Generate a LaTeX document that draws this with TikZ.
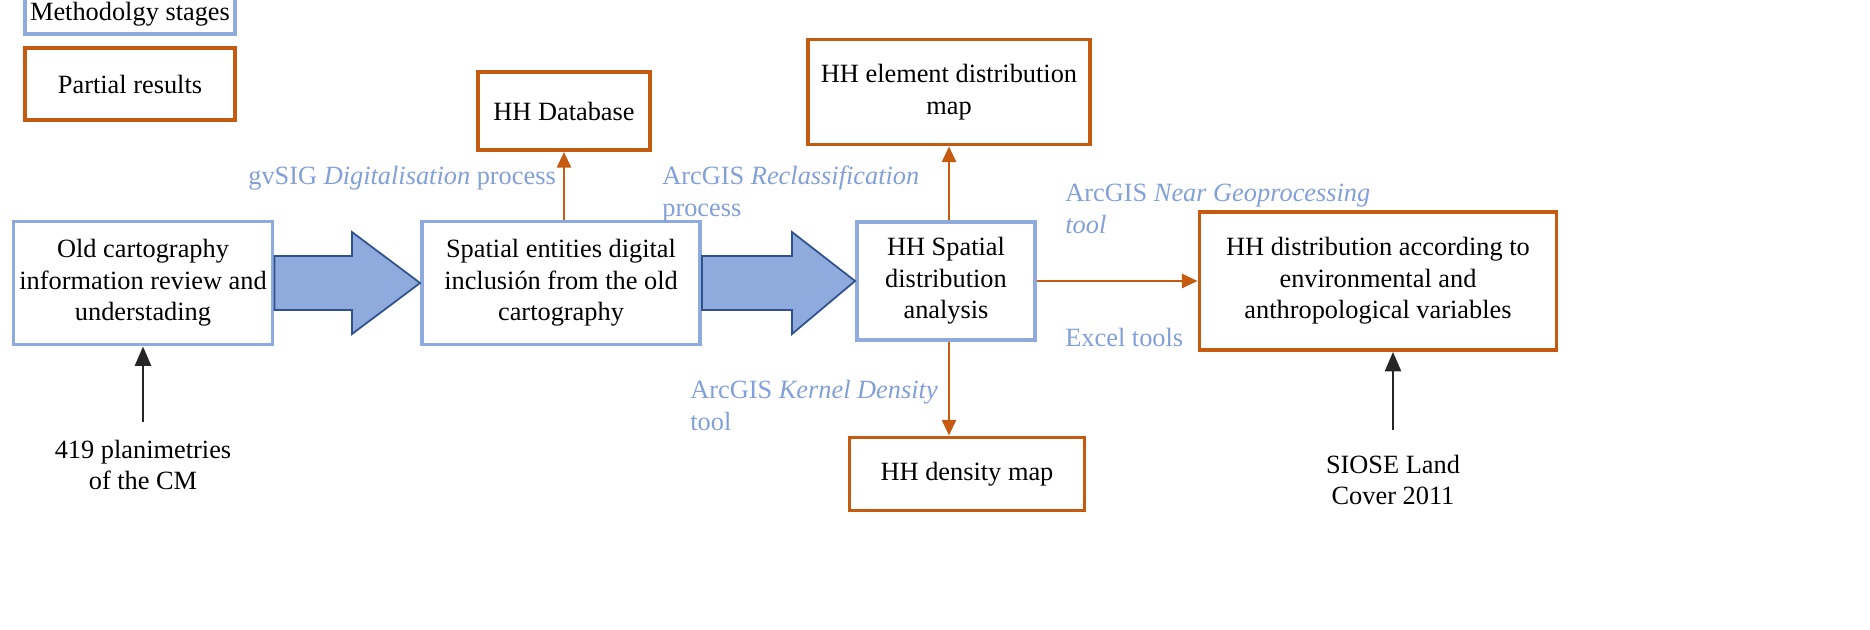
\documentclass[tikz,border=0pt]{standalone}
\usepackage{fontspec}
\setmainfont{Liberation Serif}
\usetikzlibrary{positioning,arrows.meta}
\definecolor{stageblue}{RGB}{143,170,220}
\definecolor{arrowblue}{RGB}{47,82,143}
\definecolor{resorange}{RGB}{197,90,17}
\definecolor{tooltext}{RGB}{130,160,215}
\begin{document}
\begin{tikzpicture}[x=0.02cm,y=-0.02cm,
stage/.style={
	% blue methodology box
	rectangle,draw=stageblue,line width=2.2pt,fill=white,
	align=center,font=\fontsize{15}{18}\selectfont},
result/.style={
	% orange partial result box
	rectangle,draw=resorange,line width=2.2pt,fill=white,
	align=center,font=\fontsize{15}{18}\selectfont},
tool/.style={text=tooltext,align=left,anchor=north west,inner sep=0pt,
	font=\fontsize{15}{18}\selectfont},
source/.style={align=center,inner sep=0pt,font=\fontsize{15}{18}\selectfont},
outarrow/.style={-{Triangle[length=9pt,width=8pt]},draw=resorange,line width=1.6pt},
inarrow/.style={-{Triangle[length=11pt,width=9pt]},draw=black!85,line width=1.6pt},
bigarrow/.style={fill=stageblue,draw=arrowblue,line width=1pt}]
\useasboundingbox (0,0) rectangle (1870,629);

% Legend
\node (L1) [stage,minimum width=4.2cm,minimum height=1.1cm,anchor=south] at (130,36) {};
\node [anchor=base,font=\fontsize{15}{18}\selectfont] at (130,20) {Methodolgy stages};
\node (L2) [result,minimum width=4.2cm,minimum height=1.44cm] at (130,84) {Partial results};

% Main stages
\node (A) [stage,minimum width=4.74cm,minimum height=2.46cm] at (143,283)
	{Old cartography\\information review and\\understading};
\node (B) [stage,minimum width=5.56cm,minimum height=2.46cm] at (561,283)
	{Spatial entities digital\\inclusión from the old\\cartography};
\node (C) [stage,minimum width=3.56cm,minimum height=2.36cm] at (946,281)
	{HH Spatial\\distribution\\analysis};
\node (D) [result,minimum width=7.14cm,minimum height=2.76cm] at (1378,281)
	{HH distribution according to\\environmental and\\anthropological variables};

% Partial results
\node (DB) [result,minimum width=3.44cm,minimum height=1.56cm] at (564,111) {HH Database};
\node (EM) [result,minimum width=5.64cm,minimum height=2.1cm] at (949,92) {HH element distribution\\map};
\node (DM) [result,minimum width=4.7cm,minimum height=1.46cm] at (967,474) {HH density map};

% Sources
\node (S1) [source] at (143,465) {419 planimetries\\of the CM};
\node (S2) [source] at (1393,480) {SIOSE Land\\Cover 2011};

% Big arrows
\draw[bigarrow] (A.east |- 0,256) -- (352,256) -- (352,232) -- (B.west) -- (352,334)
	-- (352,310) -- (A.east |- 0,310) -- cycle;
\draw[bigarrow] (B.east |- 0,256) -- (792,256) -- (792,232) -- (C.west) -- (792,334)
	-- (792,310) -- (B.east |- 0,310) -- cycle;

% Connectors
\draw[outarrow] (B.north -| DB) -- (DB.south);
\draw[outarrow] (C.north -| EM) -- (EM.south);
\draw[outarrow] (C.south -| EM) -- (DM.north -| EM);
\draw[outarrow] (C.east) -- (D.west);
\coordinate (s1) at ([yshift=10pt]S1.north);
\coordinate (s2) at ([yshift=14pt]S2.north);
\draw[inarrow] (s1) -- (A.south);
\draw[inarrow] (s2) -- (s2 |- D.south);

% Tool labels
\node [tool] at (248,166) {gvSIG \textit{Digitalisation} process};
\node [tool] at (662,166) {ArcGIS \textit{Reclassification}\\process};
\node [tool] at (1065,184) {ArcGIS \textit{Near Geoprocessing}\\\textit{tool}};
\node [tool] at (1065,328) {Excel tools};
\node [tool] at (690,380) {ArcGIS \textit{Kernel Density}\\tool};
\end{tikzpicture}
\end{document}
